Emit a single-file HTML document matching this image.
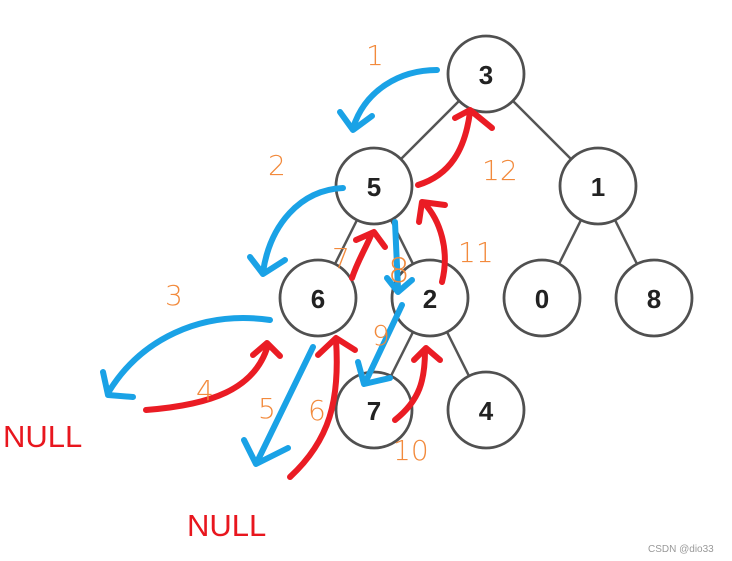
<!DOCTYPE html>
<html><head><meta charset="utf-8"><style>
html,body{margin:0;padding:0;background:#fff;}
svg{display:block}
</style></head><body>
<svg width="732" height="561" viewBox="0 0 732 561" xmlns="http://www.w3.org/2000/svg" font-family="Liberation Sans, sans-serif">
<g stroke="#555" stroke-width="2.5" fill="none">
<line x1="486" y1="74" x2="374" y2="186"/><line x1="486" y1="74" x2="598" y2="186"/>
<line x1="374" y1="186" x2="318" y2="298"/><line x1="374" y1="186" x2="430" y2="298"/>
<line x1="598" y1="186" x2="542" y2="298"/><line x1="598" y1="186" x2="654" y2="298"/>
<line x1="430" y1="298" x2="374" y2="410"/><line x1="430" y1="298" x2="486" y2="410"/>
</g>
<g stroke="#505050" stroke-width="2.8" fill="#fff">
<circle cx="486" cy="74" r="38"/><circle cx="374" cy="186" r="38"/><circle cx="598" cy="186" r="38"/>
<circle cx="318" cy="298" r="38"/><circle cx="430" cy="298" r="38"/><circle cx="542" cy="298" r="38"/>
<circle cx="654" cy="298" r="38"/><circle cx="374" cy="410" r="38"/><circle cx="486" cy="410" r="38"/>
</g>
<g font-size="26" font-weight="bold" fill="#222" text-anchor="middle">
<text x="486" y="84">3</text><text x="374" y="196">5</text><text x="598" y="196">1</text>
<text x="318" y="308">6</text><text x="430" y="308">2</text><text x="542" y="308">0</text>
<text x="654" y="308">8</text><text x="374" y="420">7</text><text x="486" y="420">4</text>
</g>
<g stroke="#1aa2e6" stroke-width="6" fill="none" stroke-linecap="round" stroke-linejoin="round">
<path d="M437 70 C400 70 365 90 353 128"/><path d="M340 112 L353 130 L372 116"/>
<path d="M343 188 C300 190 270 225 263 272"/><path d="M250 257 L263 274 L285 260"/>
<path d="M270 320 C200 310 140 340 108 393"/><path d="M103 372 L108 395 L133 397"/>
<path d="M313 347 L257 462"/><path d="M244 440 L256 464 L288 448"/>
<path d="M395 222 L398 288"/><path d="M387 278 L398 292 L412 280"/>
<path d="M402 305 L365 383"/><path d="M358 362 L364 384 L390 378"/>
</g>
<g stroke="#ea1c24" stroke-width="6" fill="none" stroke-linecap="round" stroke-linejoin="round">
<path d="M146 410 C210 405 255 390 268 345"/><path d="M253 355 L267 343 L280 356"/>
<path d="M290 477 C330 440 340 400 336 340"/><path d="M318 355 L336 338 L355 350"/>
<path d="M352 278 C358 260 365 250 372 233"/><path d="M356 240 L374 232 L385 247"/>
<path d="M395 420 C420 400 425 380 425 350"/><path d="M414 360 L426 348 L440 360"/>
<path d="M442 282 C450 250 440 220 424 203"/><path d="M419 222 L422 202 L445 205"/>
<path d="M418 185 C450 175 465 150 470 112"/><path d="M455 118 L470 110 L492 128"/>
</g>
<g fill="#f28a3c" font-size="28" font-family="DejaVu Sans, sans-serif" font-weight="200">
<text x="366" y="65">1</text><text x="268" y="175">2</text><text x="165" y="305">3</text>
<text x="196" y="400">4</text><text x="258" y="418">5</text><text x="308" y="420">6</text>
<text x="332" y="268">7</text><text x="388" y="282" font-size="34">8</text><text x="372" y="345">9</text>
<text x="393" y="460">10</text><text x="458" y="262">11</text><text x="482" y="180">12</text>
</g>
<g fill="#e8161e" font-size="31"><text x="3" y="447">NULL</text><text x="187" y="536">NULL</text></g>
<text x="648" y="552" font-size="10" fill="#999">CSDN @dio33</text>
</svg>
</body></html>
